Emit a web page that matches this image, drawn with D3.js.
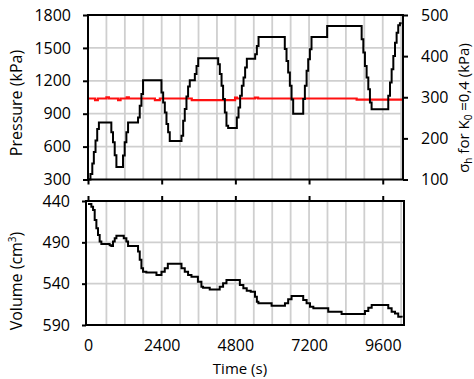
<!DOCTYPE html>
<html>
<head>
<meta charset="utf-8">
<script src="https://cdn.jsdelivr.net/npm/d3@7"></script>
<style>
  body { margin: 0; background: #fff; }
  svg text { font-family: "Open Sans", sans-serif; fill: #000; }
</style>
</head>
<body>
<div id="chart"></div>
<script>
// tick values
const timeTicks = [0, 2400, 4800, 7200, 9600];
const pressureTicks = [300, 600, 900, 1200, 1500, 1800];
const sigmaTicks = [100, 200, 300, 400, 500];
const volumeTicks = [440, 490, 540, 590];

// cell pressure (kPa), step vertices [time s, value]
const pressure = [
  [0, 300], [80, 350], [140, 445], [190, 550], [245, 655], [300, 760], [355, 820],
  [760, 730], [815, 640], [870, 520], [925, 415],
  [1141, 518], [1195, 639], [1250, 730], [1305, 820],
  [1630, 866], [1685, 973], [1740, 1079], [1793, 1205],
  [2393, 1094], [2448, 1003], [2502, 912], [2556, 806], [2610, 730], [2663, 650],
  [3045, 700], [3100, 836], [3152, 943], [3207, 1057], [3260, 1148], [3315, 1205],
  [3480, 1261], [3535, 1336], [3590, 1405],
  [4240, 1352], [4294, 1261], [4350, 1155], [4400, 1033], [4457, 912], [4510, 791], [4565, 770],
  [4848, 866], [4903, 957], [4955, 1064], [5011, 1155], [5066, 1230], [5118, 1321], [5174, 1400],
  [5445, 1442], [5500, 1518], [5555, 1600],
  [6410, 1490], [6466, 1380], [6520, 1275], [6575, 1155], [6630, 1030], [6683, 900],
  [7010, 1033], [7064, 1155], [7120, 1291], [7172, 1397], [7228, 1488], [7280, 1600],
  [7790, 1700],
  [8913, 1579], [8968, 1457], [9020, 1336], [9075, 1230], [9130, 1124], [9183, 1003], [9237, 940],
  [9780, 1064], [9836, 1185], [9890, 1306], [9945, 1427], [10000, 1548], [10052, 1639], [10105, 1706],
  [10160, 1725], [10217, 1725]
];

// horizontal stress for K0 = 0.4 (kPa)
const sigmaH = [
  [0, 297], [230, 293], [320, 297], [600, 300], [680, 297], [980, 293], [1060, 297],
  [1260, 300], [1330, 297], [2180, 293], [2340, 297], [3380, 293], [4790, 299], [4850, 297],
  [5440, 299], [5540, 297], [8750, 294], [10260, 294]
];

// specimen volume (cm3)
const volume = [
  [0, 443.5], [110, 447], [165, 451], [218, 463], [273, 473], [326, 481], [380, 489], [435, 492],
  [705, 493.5], [760, 494.5], [815, 489], [870, 485], [925, 482],
  [1165, 485], [1250, 489], [1305, 494.5],
  [1630, 501], [1685, 511], [1740, 521.5], [1793, 525.5], [1900, 526.5], [2230, 529.5],
  [2393, 525.5], [2500, 521.5], [2600, 516],
  [3045, 521.5], [3152, 525.5], [3260, 529.5], [3370, 531.5], [3580, 537.6], [3694, 543.6], [3748, 545],
  [3965, 547], [4290, 543.6], [4400, 539.6], [4510, 535.6],
  [4946, 541.6], [5060, 545.6], [5170, 548.5], [5300, 549.7], [5440, 555.8], [5500, 561.8], [5550, 563.8],
  [5980, 566.6], [6415, 563.8], [6520, 559], [6630, 555],
  [7010, 559.8], [7120, 563.8], [7230, 567.8], [7340, 569.8], [7825, 574], [8260, 576.7],
  [9020, 573], [9130, 569], [9240, 565.8],
  [9780, 569.8], [9890, 574], [10000, 576], [10105, 580], [10217, 581]
];

const W = 474, H = 379;
const svg = d3.select('#chart').append('svg')
  .attr('width', W).attr('height', H);

const x = d3.scaleLinear().domain([0, 10260]).range([88, 403]);
const yP = d3.scaleLinear().domain([300, 1800]).range([179.5, 15]);
const yS = d3.scaleLinear().domain([100, 500]).range([179.5, 15]);
const yV = d3.scaleLinear().domain([440, 590]).range([201, 325]);

const gridColor = '#cfcfcf';
const timeGrid = d3.range(600, 10260, 600);

function vGrid(y0, y1) {
  svg.append('g').selectAll('line').data(timeGrid).join('line')
    .attr('x1', d => x(d)).attr('x2', d => x(d))
    .attr('y1', y0).attr('y2', y1)
    .attr('stroke', gridColor).attr('stroke-width', 1.8);
}
function hGrid(vals, y, x0, x1) {
  svg.append('g').selectAll('line').data(vals).join('line')
    .attr('x1', x0).attr('x2', x1)
    .attr('y1', d => y(d)).attr('y2', d => y(d))
    .attr('stroke', gridColor).attr('stroke-width', 1.8);
}

// top panel grid
vGrid(yP(1800), yP(300));
hGrid([600, 900, 1200, 1500], yP, x.range()[0], x.range()[1]);
// bottom panel grid
vGrid(yV(440), yV(590));
hGrid([490, 540], yV, 86, 404);

const step = d3.line().curve(d3.curveStepAfter);

svg.append('path')
  .attr('d', step.x(d => x(d[0])).y(d => yS(d[1]))(sigmaH))
  .attr('fill', 'none').attr('stroke', '#ff1010').attr('stroke-width', 2.2);

svg.append('path')
  .attr('d', step.x(d => x(d[0])).y(d => yP(d[1]))(pressure))
  .attr('fill', 'none').attr('stroke', '#000').attr('stroke-width', 2);

svg.append('path')
  .attr('d', step.x(d => x(d[0])).y(d => yV(d[1]))(volume))
  .attr('fill', 'none').attr('stroke', '#000').attr('stroke-width', 2);

// frames
svg.append('rect').attr('x', 88).attr('y', yP(1800))
  .attr('width', 403 - 88).attr('height', yP(300) - yP(1800))
  .attr('fill', 'none').attr('stroke', '#000').attr('stroke-width', 2);
svg.append('rect').attr('x', 86).attr('y', yV(440))
  .attr('width', 404 - 86).attr('height', yV(590) - yV(440))
  .attr('fill', 'none').attr('stroke', '#000').attr('stroke-width', 2);

const fmt = d3.format('d');
function styleAxis(g) {
  g.select('.domain').remove();
  g.selectAll('.tick line').attr('stroke', '#000').attr('stroke-width', 2);
  g.selectAll('.tick text').style('font-size', '16px').attr('fill', '#000');
}

// axes
svg.append('g').attr('transform', 'translate(88,0)')
  .call(d3.axisLeft(yP).tickValues(pressureTicks).tickFormat(fmt).tickSize(5).tickPadding(12))
  .call(styleAxis);
svg.append('g').attr('transform', 'translate(403,0)')
  .call(d3.axisRight(yS).tickValues(sigmaTicks).tickFormat(fmt).tickSize(5).tickPadding(13))
  .call(styleAxis);
svg.append('g').attr('transform', `translate(0,${yP(300)})`)
  .call(d3.axisBottom(x).tickValues(timeTicks).tickSize(5).tickFormat(''))
  .call(styleAxis);
svg.append('g').attr('transform', `translate(0,${yV(440)})`)
  .call(d3.axisTop(x).tickValues(timeTicks).tickSize(5).tickFormat(''))
  .call(styleAxis);
svg.append('g').attr('transform', 'translate(86,0)')
  .call(d3.axisLeft(yV).tickValues(volumeTicks).tickFormat(fmt).tickSize(4).tickPadding(12))
  .call(styleAxis);
svg.append('g').attr('transform', `translate(0,${yV(590)})`)
  .call(d3.axisBottom(x).tickValues(timeTicks).tickSize(0).tickPadding(15).tickFormat(fmt))
  .call(styleAxis);

// titles
svg.append('text')
  .attr('transform', 'translate(22,103) rotate(-90)')
  .attr('text-anchor', 'middle').style('font-size', '16px')
  .text('Pressure (kPa)');

const vt = svg.append('text')
  .attr('transform', 'translate(22,281) rotate(-90)')
  .attr('text-anchor', 'middle').style('font-size', '16px');
vt.append('tspan').text('Volume (cm');
vt.append('tspan').attr('dy', -6).style('font-size', '10px').text('3');
vt.append('tspan').attr('dy', 6).text(')');

svg.append('text')
  .attr('x', 240).attr('y', 374)
  .attr('text-anchor', 'middle').style('font-size', '15px')
  .text('Time (s)');

const st = svg.append('text')
  .attr('transform', 'translate(469,108) rotate(-90)')
  .attr('text-anchor', 'middle').style('font-size', '15px');
st.append('tspan').text('σ');
st.append('tspan').attr('dy', 3).style('font-size', '10px').text('h');
st.append('tspan').attr('dy', -3).text(' for K');
st.append('tspan').attr('dy', 3).style('font-size', '10px').text('0');
st.append('tspan').attr('dy', -3).text(' =0,4 (kPa)');
</script>
</body>
</html>
